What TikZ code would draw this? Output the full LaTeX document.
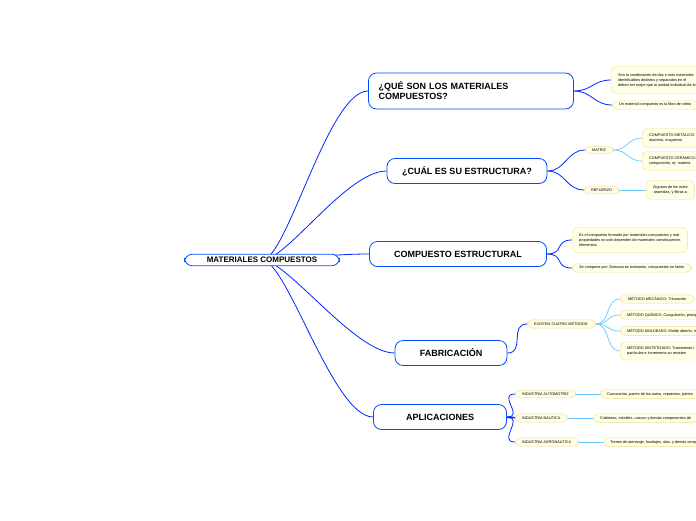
\documentclass[tikz,border=0pt]{standalone}
\usepackage{fontspec}
\setmainfont{Liberation Sans}
\usetikzlibrary{calc,backgrounds}
\begin{document}
\begin{tikzpicture}[x=1pt,y=-1pt,
 main/.style={draw=blue!70!cyan,line width=0.8pt,fill=white,rounded corners=8pt,font=\bfseries\fontsize{9}{10}\selectfont,align=left,inner xsep=10pt,inner ysep=5pt},
 sub/.style={draw=yellow!60!brown!55,fill=yellow!10,rounded corners=5pt,font=\fontsize{3.8}{5}\selectfont,align=left,inner xsep=7pt,inner ysep=2.5pt,anchor=west},
 con/.style={draw=blue!85!cyan,line width=0.8pt},
 lcon/.style={draw=blue!35!cyan!60,line width=0.7pt}]
\useasboundingbox (0,0) rectangle (696,520);
\node[main,font=\bfseries\fontsize{8}{9}\selectfont,inner ysep=3pt,minimum width=155pt] (root) at (262,260) {MATERIALES COMPUESTOS};
\node[main,minimum width=205pt,minimum height=36pt,text width=185pt] (m1) at (471,91) {¿QUÉ SON LOS MATERIALES\\COMPUESTOS?};
\node[main,minimum width=160pt,minimum height=25pt,align=center] (m2) at (467,171) {¿CUÁL ES SU ESTRUCTURA?};
\node[main,minimum width=177pt,minimum height=25pt,align=center] (m3) at (458,254) {COMPUESTO ESTRUCTURAL};
\node[main,minimum width=112pt,minimum height=25pt,align=center] (m4) at (451,353) {FABRICACIÓN};
\node[main,minimum width=133pt,minimum height=25pt,align=center] (m5) at (440,417) {APLICACIONES};

\node[sub,minimum height=27pt] (a1) at (611,80) {Son la combinación de dos o más materiales\\identificables distintos y separados en el\\deben ser mejor que la unidad individual de lo};
\node[sub] (a2) at (612,105) {Un material compuesto es la fibra de vidrio};

\node[sub] (b1) at (585,150) {MATRIZ};
\node[sub] (b2) at (584,190) {REFUERZO};
\node[sub,minimum height=19pt] (b11) at (642,138) {COMPUESTO METÁLICO:\\aluminio, magnesio};
\node[sub,minimum height=19pt] (b12) at (642,161) {COMPUESTO CERÁMICO:\\composición, ej: materia};
\node[sub,minimum height=19pt,align=center] (b21) at (646,190) {Algunos de los mate\\aramidas, y fibras a};

\node[sub,minimum height=25pt] (c1) at (572,240) {Es el compuesto formado por materiales compuestos y mat\\propiedades no solo dependen de materiales constituyentes\\elementos};
\node[sub] (c2) at (572,268) {Se compone por: Estructuras laminares, compuestos no lamin};

\node[sub] (d0) at (527,324) {EXISTEN CUATRO MÉTODOS:};
\node[sub,minimum width=74pt] (d1) at (620,299) {MÉTODO MECÁNICO: Trituración};
\node[sub] (d2) at (620,315) {MÉTODO QUÍMICO: Coagulación, precip};
\node[sub] (d3) at (620,331) {MÉTODO MOLDEADO: Molde abierto, m};
\node[sub,minimum height=18pt] (d4) at (620,351) {MÉTODO SINTETIZADO: Tratamiento t\\partículas e incrementa su resisten};

\node[sub] (e1) at (515,394) {INDUSTRIA AUTOMOTRIZ};
\node[sub] (e2) at (515,418) {INDUSTRIA NÁUTICA};
\node[sub] (e3) at (515,442) {INDUSTRIA AERONÁUTICA};
\node[sub] (e11) at (600,394) {Carrocerías, partes de los autos, repuestos, partes};
\node[sub] (e21) at (593,418) {Cubiertas, mástiles, cascos y demás componentes de};
\node[sub] (e31) at (603,442) {Trenes de aterrizaje, fuselajes, alas, y demás componentes};

\begin{scope}[on background layer]
\fill[white] (0,0) rectangle (696,520);
\foreach \m in {m1,m2,m3,m4,m5}
  \draw[con] (root.center) .. controls ($(root.center)+(25,0)$) and ($(\m.west)+(-40,0)$) .. (\m.west);
\foreach \p/\c in {m1/a1,m1/a2,m2/b1,m2/b2,m3/c1,m3/c2,m4/d0,m5/e1,m5/e2,m5/e3}
  \draw[con] (\p.east) .. controls +(18,0) and ($(\c.west)+(-18,0)$) .. (\c.west);
\foreach \p/\c in {b1/b11,b1/b12,d0/d1,d0/d2,d0/d3,d0/d4}
  \draw[lcon] (\p.east) .. controls +(15,0) and ($(\c.west)+(-15,0)$) .. (\c.west);
\foreach \p/\c in {b2/b21,e1/e11,e2/e21,e3/e31}
  \draw[lcon] (\p.east) -- (\c.west);
\end{scope}
\end{tikzpicture}
\end{document}
